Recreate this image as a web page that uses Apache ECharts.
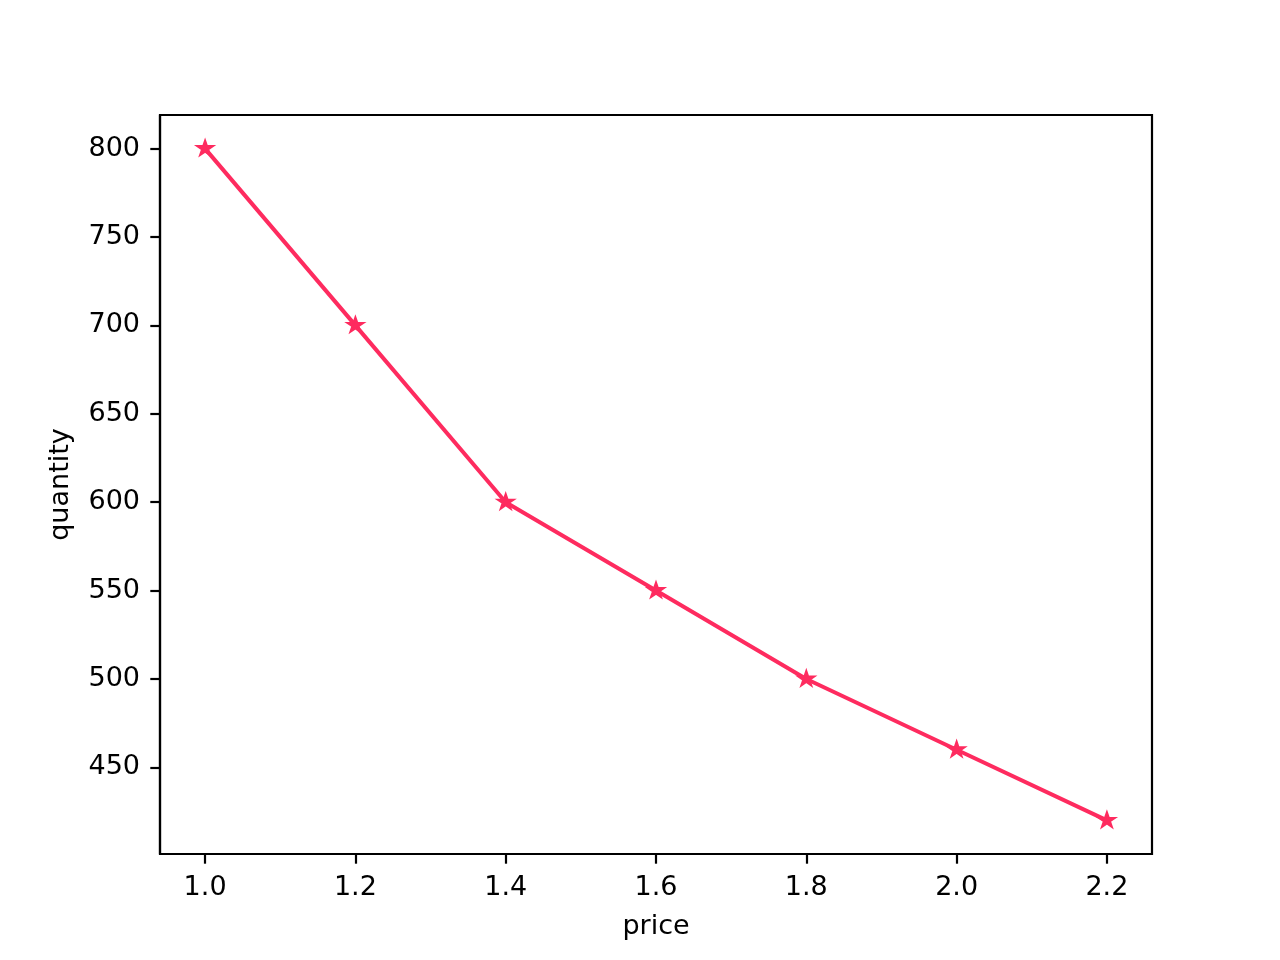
<!DOCTYPE html>
<html>
<head>
<meta charset="utf-8">
<script src="https://cdn.jsdelivr.net/npm/echarts@6/dist/echarts.min.js"></script>
<style>
  html, body { margin: 0; padding: 0; background: #ffffff; }
  #chart { width: 1280px; height: 960px; }
</style>
</head>
<body>
<div id="chart"></div>
<script>
// ---- data ----
var prices = [1.0, 1.2, 1.4, 1.6, 1.8, 2.0, 2.2];
var quantities = [800, 700, 600, 550, 500, 460, 420];
var xTicks = [1.0, 1.2, 1.4, 1.6, 1.8, 2.0, 2.2];
var yTicks = [450, 500, 550, 600, 650, 700, 750, 800];
var xLabel = 'price';
var yLabel = 'quantity';

// ---- star symbol (5-pointed, like matplotlib '*') ----
function starPath() {
  var R = 50, r = R * 0.381966, pts = [];
  for (var i = 0; i < 10; i++) {
    var rad = (i % 2 === 0) ? R : r;
    var a = -Math.PI / 2 + i * Math.PI / 5;
    pts.push((rad * Math.cos(a)).toFixed(3) + ' ' + (rad * Math.sin(a)).toFixed(3));
  }
  return 'path://M' + pts.join(' L') + ' Z';
}

var color = '#fe2b5f';
var font = 'DejaVu Sans';
var fs = 27;

var chart = echarts.init(document.getElementById('chart'), null, { renderer: 'canvas' });
chart.setOption({
  animation: false,
  backgroundColor: '#ffffff',
  textStyle: { fontFamily: font },
  grid: {
    left: 160, right: 128, top: 115, bottom: 106,
    show: true, borderColor: '#000', borderWidth: 2.2, backgroundColor: 'transparent'
  },
  xAxis: {
    type: 'value',
    min: 0.94, max: 2.26,
    name: xLabel,
    nameLocation: 'middle',
    nameGap: 59,
    nameTextStyle: { fontFamily: font, fontSize: fs, color: '#000' },
    axisLine: { show: true, lineStyle: { color: '#000', width: 2.2 } },
    axisTick: { show: true, length: 9.7, lineStyle: { color: '#000', width: 2.2 }, customValues: xTicks },
    axisLabel: {
      fontFamily: font, fontSize: fs, color: '#000', margin: 20,
      customValues: xTicks,
      formatter: function (v) { return v.toFixed(1); }
    },
    splitLine: { show: false }
  },
  yAxis: {
    type: 'value',
    min: 401, max: 819,
    name: yLabel,
    nameLocation: 'middle',
    nameGap: 86,
    nameRotate: 90,
    nameTextStyle: { fontFamily: font, fontSize: fs, color: '#000' },
    axisLine: { show: true, lineStyle: { color: '#000', width: 2.2 } },
    axisTick: { show: true, length: 9.7, lineStyle: { color: '#000', width: 2.2 }, customValues: yTicks },
    axisLabel: {
      fontFamily: font, fontSize: fs, color: '#000', margin: 20,
      customValues: yTicks,
      formatter: function (v) { return String(Math.round(v)); }
    },
    splitLine: { show: false }
  },
  series: [{
    type: 'line',
    data: prices.map(function (p, i) { return [p, quantities[i]]; }),
    lineStyle: { color: color, width: 4 },
    itemStyle: { color: color, borderColor: color, borderWidth: 2 },
    symbol: starPath(),
    symbolSize: [16, 15.2],
    symbolKeepAspect: true,
    symbolOffset: [0, -0.8],
    showSymbol: true,
    z: 3
  }]
});
</script>
</body>
</html>
